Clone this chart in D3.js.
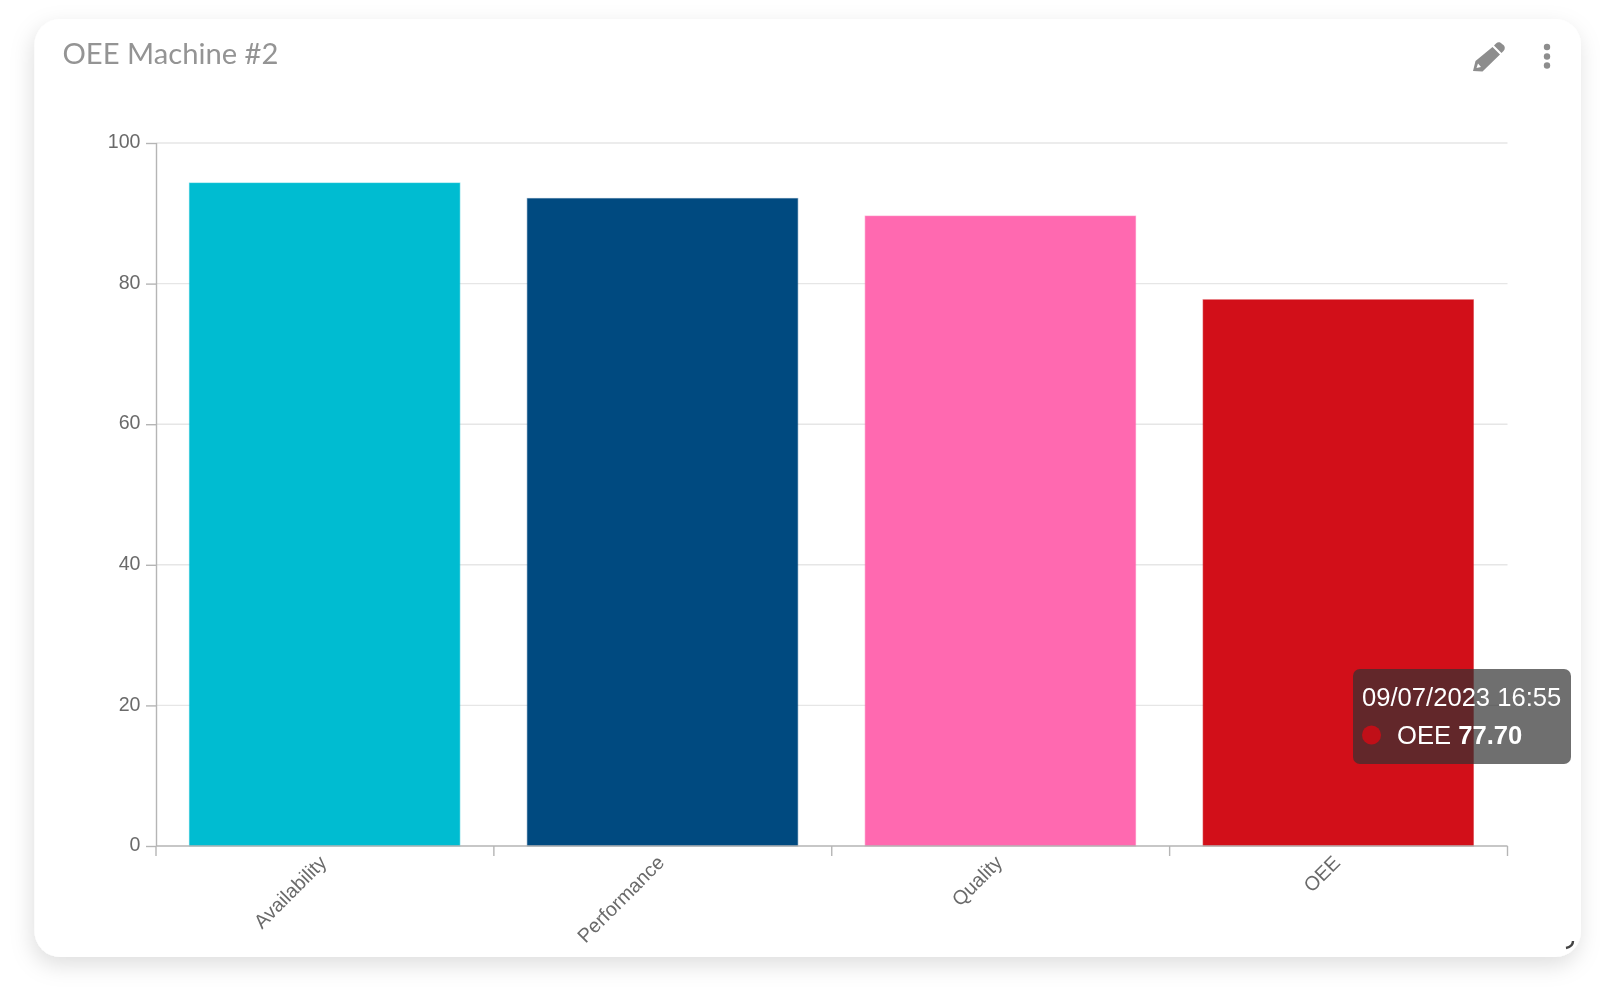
<!DOCTYPE html>
<html><head><meta charset="utf-8">
<script src="https://cdnjs.cloudflare.com/ajax/libs/d3/7.8.5/d3.min.js"></script>
<style>html,body{margin:0;padding:0;background:#fff;overflow:hidden}svg{display:block;filter:blur(0.45px)}</style>
</head><body><svg id="c" width="1600" height="991"></svg>
<script>
const categories = ["Availability","Performance","Quality","OEE"];
const values = [94.3, 92.1, 89.6, 77.7];
const colors = ["#00bcd1","#004a80","#ff69b0","#d20f19"];
const yTicks = [0,20,40,60,80,100];
const titleText = "OEE Machine #2";
const tipTime = "09/07/2023 16:55";
const tipSeries = "OEE";
const tipValue = "77.70";

const svg = d3.select("#c");
const defs = svg.append("defs");
const f = defs.append("filter").attr("id","sh").attr("x","-10%").attr("y","-10%").attr("width","120%").attr("height","120%");
f.append("feDropShadow").attr("dx",-2).attr("dy",8).attr("stdDeviation",11).attr("flood-color","#000").attr("flood-opacity",0.13);

svg.append("rect").attr("x",34.5).attr("y",19).attr("width",1546.5).attr("height",938).attr("rx",26)
  .attr("fill","#fff").attr("filter","url(#sh)");

svg.append("text").attr("x",62.5).attr("y",64).attr("font-family","Lato, 'Noto Sans', sans-serif")
  .attr("font-size",29.2).attr("fill","#949494").text(titleText);

// pencil icon
const g = svg.append("g").attr("transform","translate(1473,40)").attr("fill","#8d8d8d");
g.append("path").attr("d","M29 4 C27.5 2 25 1.5 23 3.5 L21 5.5 L28.5 13 L30.5 11 C32.5 9 32 6.5 30.5 5 Z");
g.append("path").attr("d","M19.5 7 L27 14.5 L9.5 31.5 L0 31 L0.5 29 L2.5 21 Z M5 23.5 L3.5 28 L8 27 Z").attr("fill-rule","evenodd");
// dots
[47,56.5,65.5].forEach(y => svg.append("circle").attr("cx",1547).attr("cy",y).attr("r",3.2).attr("fill","#8d8d8d"));

const x = d3.scaleBand().domain(categories).range([156,1507.5]).paddingInner(0.2).paddingOuter(0.1);
const y = d3.scaleLinear().domain([0,100]).range([846,143]);

// grid
svg.append("g").selectAll("line").data(yTicks.filter(d=>d>0)).join("line")
  .attr("x1",156).attr("x2",1507.5).attr("y1",d=>y(d)).attr("y2",d=>y(d))
  .attr("stroke","#e6e6e6").attr("stroke-width",1.4);

// bars
svg.append("g").selectAll("rect").data(categories).join("rect")
  .attr("x",d=>x(d)-0.3).attr("width",x.bandwidth())
  .attr("y",(d,i)=>y(values[i])).attr("height",(d,i)=>y(0)-y(values[i]))
  .attr("fill",(d,i)=>colors[i])
  .attr("stroke",(d,i)=>colors[i]).attr("stroke-opacity",0.45).attr("stroke-width",1.2);

// axes
const yAxis = d3.axisLeft(y).tickValues(yTicks).tickSize(10).tickPadding(5);
const ya = svg.append("g").attr("transform","translate(156,0)").call(yAxis);
ya.select(".domain").attr("stroke","#b5b5b5").attr("stroke-width",1.4).attr("d","M0.5,143V846");
ya.selectAll(".tick line").attr("stroke","#b5b5b5").attr("stroke-width",1.4);
ya.selectAll("text").attr("font-family","'Liberation Sans', Arial, sans-serif").attr("font-size",19.6).attr("fill","#6a6a6a").attr("y",-1.5).attr("x",-15.5);

const xEdges = d3.scaleLinear().domain([0,categories.length]).range([156,1507.5]);
const xg = svg.append("g");
xg.append("line").attr("x1",156).attr("x2",1507.5).attr("y1",846).attr("y2",846).attr("stroke","#b5b5b5").attr("stroke-width",1.4);
xg.selectAll("line.t").data(d3.range(categories.length+1)).join("line").attr("class","t")
  .attr("x1",d=>xEdges(d)).attr("x2",d=>xEdges(d)).attr("y1",846).attr("y2",856).attr("stroke","#b5b5b5").attr("stroke-width",1.4);
xg.selectAll("text").data(categories).join("text")
  .attr("transform",d=>`translate(${x(d)+x.bandwidth()/2-7},854) rotate(-45)`)
  .attr("text-anchor","end").attr("dy","0.7em")
  .attr("font-family","'Liberation Sans', Arial, sans-serif").attr("font-size",19.8).attr("fill","#6a6a6a").text(d=>d);

// tooltip
const t = svg.append("g");
t.append("rect").attr("x",1353).attr("y",669).attr("width",218).attr("height",95).attr("rx",7).attr("fill","rgba(50,50,50,0.7)");
t.append("text").attr("x",1362).attr("y",705.5).attr("font-family","'Liberation Sans', Arial, sans-serif").attr("font-size",25.6).attr("fill","#fff").text(tipTime);
t.append("circle").attr("cx",1371.5).attr("cy",735).attr("r",9.5).attr("fill","#c00f18");
const tl = t.append("text").attr("x",1397).attr("y",744).attr("font-family","'Liberation Sans', Arial, sans-serif").attr("font-size",25.6).attr("fill","#fff");
tl.append("tspan").text(tipSeries+" ");
tl.append("tspan").attr("font-weight","bold").text(tipValue);

// resize handle
svg.append("path").attr("d","M1573 941 C1573 945 1571 947 1566 948").attr("fill","none").attr("stroke","#444").attr("stroke-width",2.4);
</script></body></html>
